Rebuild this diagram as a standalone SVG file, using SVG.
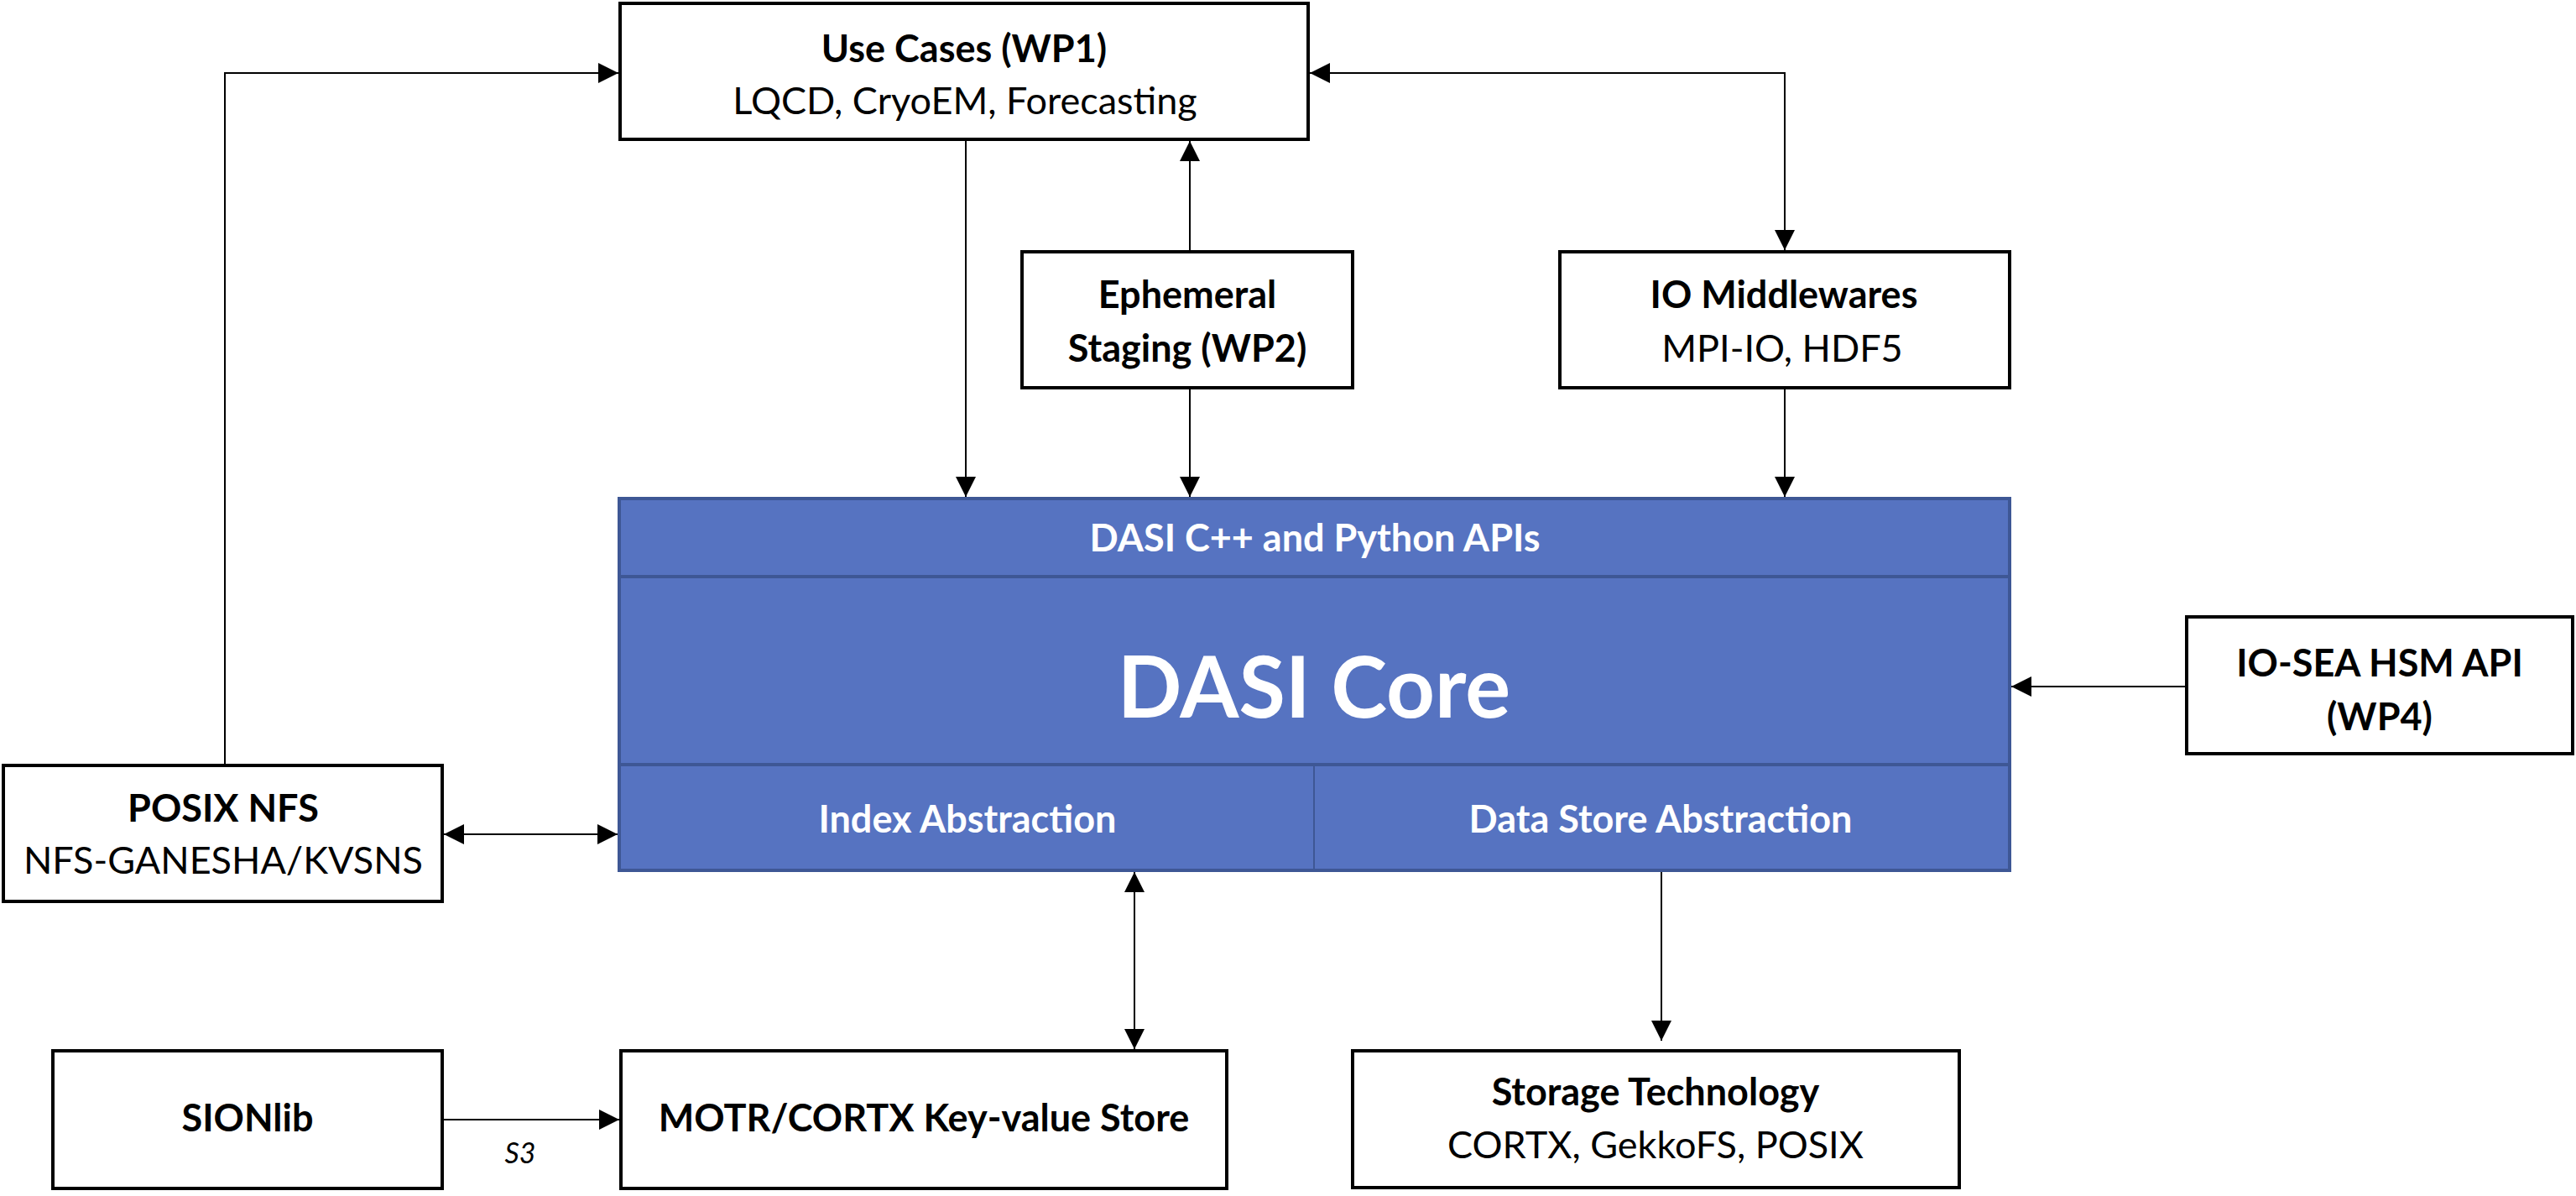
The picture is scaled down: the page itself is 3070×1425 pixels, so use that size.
<svg xmlns="http://www.w3.org/2000/svg" width="3070" height="1425" viewBox="0 0 3070 1425">
<style>
.box{fill:#ffffff;stroke:#000000;stroke-width:4}
.core{fill:#5673c1;stroke:#3e5795;stroke-width:4}
.div{stroke:#3e5795;stroke-width:4;fill:none}
.t{font-family:Lato,'Open Sans',sans-serif;font-size:45px;text-anchor:middle;fill:#000000}
.b{font-weight:bold}
.w{fill:#ffffff;font-weight:bold}
.big{font-size:101px}
.it{font-style:italic;font-size:34px}
.c{fill:none;stroke:#000000;stroke-width:2}
</style>
<defs>
<marker id="ah" viewBox="0 0 24 24" refX="24" refY="12" markerWidth="24" markerHeight="24" markerUnits="userSpaceOnUse" orient="auto-start-reverse">
<path d="M0,0 L24,12 L0,24 z" fill="#000000"/>
</marker>
</defs>
<rect width="3070" height="1425" fill="#ffffff"/>
<g id="connectors">
<path class="c" d="M268,912 V87 H737" marker-end="url(#ah)"/>
<path class="c" d="M1561,87 H2127 V298" marker-start="url(#ah)" marker-end="url(#ah)"/>
<path class="c" d="M1151,166 V592" marker-end="url(#ah)"/>
<path class="c" d="M1418,300 V168" marker-end="url(#ah)"/>
<path class="c" d="M1418,462 V592" marker-end="url(#ah)"/>
<path class="c" d="M2127,462 V592" marker-end="url(#ah)"/>
<path class="c" d="M2606,818 H2397" marker-end="url(#ah)"/>
<path class="c" d="M529,994 H736" marker-start="url(#ah)" marker-end="url(#ah)"/>
<path class="c" d="M1352,1039 V1250" marker-start="url(#ah)" marker-end="url(#ah)"/>
<path class="c" d="M1980,1037 V1240" marker-end="url(#ah)"/>
<path class="c" d="M527,1334 H738" marker-end="url(#ah)"/>
<text class="t it" x="620" y="1386">S3</text>
</g>
<g id="use-cases">
<rect class="box" x="739" y="4" width="820" height="162"/>
<text class="t b" x="1149" y="74">Use Cases (WP1)</text>
<text class="t" x="1150" y="136">LQCD, CryoEM, Forecasting</text>
</g>
<g id="ephemeral-staging">
<rect class="box" x="1218" y="300" width="394" height="162"/>
<text class="t b" x="1415" y="367">Ephemeral</text>
<text class="t b" x="1415" y="431">Staging (WP2)</text>
</g>
<g id="io-middlewares">
<rect class="box" x="1859" y="300" width="536" height="162"/>
<text class="t b" x="2126" y="367">IO Middlewares</text>
<text class="t" x="2124" y="431">MPI-IO, HDF5</text>
</g>
<g id="dasi-core">
<rect class="core" x="738" y="594" width="1657" height="443"/>
<line class="div" x1="738" y1="687" x2="2395" y2="687"/>
<line class="div" x1="738" y1="911" x2="2395" y2="911"/>
<line class="div" x1="1566" y1="911" x2="1566" y2="1037" style="stroke-width:2"/>
<text class="t w" x="1567" y="657">DASI C++ and Python APIs</text>
<text class="t w big" x="1566" y="855">DASI Core</text>
<text class="t w" x="1153" y="992">Index Abstraction</text>
<text class="t w" x="1979" y="992">Data Store Abstraction</text>
</g>
<g id="io-sea-hsm">
<rect class="box" x="2606" y="735" width="460" height="163"/>
<text class="t b" x="2836" y="806">IO-SEA HSM API</text>
<text class="t b" x="2836" y="870">(WP4)</text>
</g>
<g id="posix-nfs">
<rect class="box" x="4" y="912" width="523" height="162"/>
<text class="t b" x="266" y="979">POSIX NFS</text>
<text class="t" x="266" y="1041">NFS-GANESHA/KVSNS</text>
</g>
<g id="sionlib">
<rect class="box" x="63" y="1252" width="464" height="164"/>
<text class="t b" x="295" y="1348">SIONlib</text>
</g>
<g id="motr-cortx">
<rect class="box" x="740" y="1252" width="722" height="164"/>
<text class="t b" x="1101" y="1348">MOTR/CORTX Key-value Store</text>
</g>
<g id="storage-technology">
<rect class="box" x="1612" y="1252" width="723" height="163"/>
<text class="t b" x="1973" y="1317">Storage Technology</text>
<text class="t" x="1973" y="1380">CORTX, GekkoFS, POSIX</text>
</g>
</svg>
